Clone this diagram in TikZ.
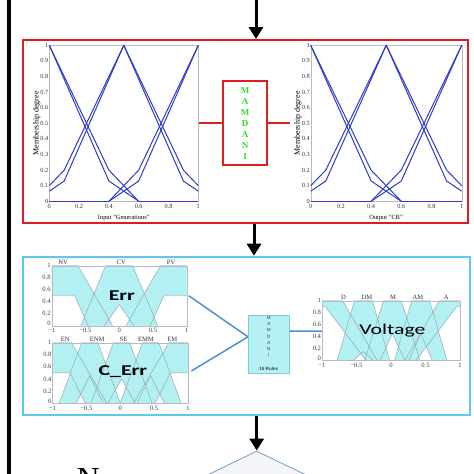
\documentclass[tikz,border=0pt]{standalone}
\usepackage{fontspec}
\setmainfont{Liberation Serif}
\setsansfont{Liberation Sans}
\newfontfamily\carl{Carlito}
\usetikzlibrary{arrows.meta,shapes.geometric}
\definecolor{redfr}{RGB}{220,30,35}
\definecolor{cyanfr}{RGB}{95,200,235}
\definecolor{tfill}{RGB}{178,240,242}
\definecolor{tline}{RGB}{140,160,165}
\definecolor{mfblue}{RGB}{45,60,195}
\definecolor{mgreen}{RGB}{50,215,50}
\definecolor{linkb}{RGB}{75,145,215}
\definecolor{diafill}{RGB}{244,245,248}
\definecolor{diaedge}{RGB}{115,160,200}
\definecolor{axgrey}{RGB}{185,185,200}
\definecolor{boxfill}{RGB}{180,240,246}
\definecolor{boxedge}{RGB}{130,200,230}
% type-2 membership functions
\newcommand\tmidf[5]{\fill[tfill,even odd rule] ({#1-#2},0)--({#1-#3},1)--({#1+#3},1)--({#1+#2},0)--cycle ({#1-#4},0)--(#1,#5)--({#1+#4},0)--cycle;}
\newcommand\tmidl[5]{\draw[tline] ({#1-#2},0)--({#1-#3},1)--({#1+#3},1)--({#1+#2},0) ({#1-#4},0)--(#1,#5)--({#1+#4},0);}
\newcommand\tshf[6]{\fill[tfill,even odd rule] (#1,0)--(#1,1)--(#2,1)--(#3,0)--cycle (#1,0)--(#1,#4)--(#5,#4)--(#6,0)--cycle;}
\newcommand\tshl[6]{\draw[tline] (#1,1)--(#2,1)--(#3,0) (#1,#4)--(#5,#4)--(#6,0);}
\begin{document}
\begin{tikzpicture}[x=1pt,y=-1pt,
  redframe/.style={draw=redfr,line width=2pt,inner sep=0pt},
  cyanframe/.style={draw=cyanfr,line width=2pt,inner sep=0pt},
  bigarrow/.style={line width=3pt,-{Triangle[width=14pt,length=12pt]}},
  redlink/.style={draw=redfr,line width=2pt},
  bluelink/.style={draw=linkb,line width=1.5pt},
  mfline/.style={draw=mfblue,line width=1pt,line join=round},
  axframe/.style={draw=axgrey,line width=0.4pt},
  tickl/.style={font=\fontsize{6.3}{6}\selectfont,inner sep=0.8pt,text=black!80},
  ticktt/.style={font=\fontsize{6.6}{6}\selectfont,inner sep=0.8pt,text=black!75},
  toplab/.style={font=\fontsize{6.6}{6}\selectfont,inner sep=0pt,anchor=base,text=black!80},
  bigword/.style={font=\carl\fontsize{15}{15}\selectfont,xscale=1.45,inner sep=0pt}]
\useasboundingbox (0,0) rectangle (474,474);
\fill[white] (0,0) rectangle (474,474);
% left bar
\coordinate (bartop) at (9,-5);
\coordinate (barbot) at (9,480);
\draw[line width=3.6pt] (bartop) -- (barbot);
% frames
\node[redframe,minimum width=445.3pt,minimum height=182.7pt] (rbox) at (245.35,131.35) {};
\node[cyanframe,minimum width=447.3pt,minimum height=158.3pt] (cbox) at (246.35,335.85) {};
% arrows
\coordinate (a1) at (256,-2);
\draw[bigarrow] (a1) -- (a1 |- rbox.north);
\coordinate (a2) at (254,0);
\draw[bigarrow] (a2 |- rbox.south) -- (a2 |- cbox.north);
\node[diamond,draw=diaedge,fill=diafill,line width=0.8pt,minimum width=190pt,minimum height=92pt,inner sep=0pt] (dec) at (256.7,497) {};
\draw[bigarrow] (dec.north |- cbox.south) -- (dec.north);
\node[font=\fontsize{32}{32}\selectfont,anchor=north west,inner sep=0pt] (nlab) at (76.5,468) {N};
% ---------- top plots
\begin{scope}[shift={(49.3,201.3)},x=149pt,y=156pt]
  \draw[axframe] (0,0) rectangle (1,1);
  \foreach \v in {0,0.1,0.2,0.3,0.4,0.5,0.6,0.7,0.8,0.9,1}
    \node[tickl,anchor=east] at (0,\v) {\v};
  \foreach \v in {0,0.2,0.4,0.6,0.8,1}
    \node[tickl,anchor=north] at (\v,-0.015) {\v};
  \node[font=\fontsize{8}{8}\selectfont,rotate=90,inner sep=0pt] (yl1) at (-0.085,0.5) {Membership degree};
  \node[font=\fontsize{6.4}{6}\selectfont,inner sep=0pt] (xl1) at (0.5,-0.105) {Input "Generations"};
  \draw[mfline] (0,0)--(0.4,0);
  \draw[mfline] (0.6,0)--(1,0);
  \draw[mfline] (0,1)--(0.4,0.2)--(0.5,0.1)--(0.6,0);
  \draw[mfline] (0,1)--(0.4,0.13)--(0.5,0.065)--(0.6,0);
  \draw[mfline] (0,0.1)--(0.1,0.2)--(0.5,1)--(0.9,0.2)--(1,0.1);
  \draw[mfline] (0,0.065)--(0.1,0.13)--(0.5,1)--(0.9,0.13)--(1,0.065);
  \draw[mfline] (0.4,0)--(0.5,0.1)--(0.6,0.2)--(1,1);
  \draw[mfline] (0.4,0)--(0.5,0.065)--(0.6,0.13)--(1,1);
  \coordinate (p1r) at (1.005,0.5);
\end{scope}
\begin{scope}[shift={(310.7,201.3)},x=151pt,y=156pt]
  \draw[axframe] (0,0) rectangle (1,1);
  \foreach \v in {0,0.1,0.2,0.3,0.4,0.5,0.6,0.7,0.8,0.9,1}
    \node[tickl,anchor=east] at (0,\v) {\v};
  \foreach \v in {0,0.2,0.4,0.6,0.8,1}
    \node[tickl,anchor=north] at (\v,-0.015) {\v};
  \node[font=\fontsize{8}{8}\selectfont,rotate=90,inner sep=0pt] (yl2) at (-0.084,0.5) {Membership degree};
  \node[font=\fontsize{6.4}{6}\selectfont,inner sep=0pt] (xl2) at (0.5,-0.105) {Output "CR"};
  \draw[mfline] (0,0)--(0.4,0);
  \draw[mfline] (0.6,0)--(1,0);
  \draw[mfline] (0,1)--(0.4,0.2)--(0.5,0.1)--(0.6,0);
  \draw[mfline] (0,1)--(0.4,0.13)--(0.5,0.065)--(0.6,0);
  \draw[mfline] (0,0.1)--(0.1,0.2)--(0.5,1)--(0.9,0.2)--(1,0.1);
  \draw[mfline] (0,0.065)--(0.1,0.13)--(0.5,1)--(0.9,0.13)--(1,0.065);
  \draw[mfline] (0.4,0)--(0.5,0.1)--(0.6,0.2)--(1,1);
  \draw[mfline] (0.4,0)--(0.5,0.065)--(0.6,0.13)--(1,1);
  \coordinate (p2l) at (-0.137,0.5);
\end{scope}
% red MAMDANI box
\node[redframe,minimum width=44pt,minimum height=84pt,align=center,text=mgreen,
  font=\bfseries\fontsize{9}{11}\selectfont] (mbox) at (245,123.3) {M\\A\\M\\D\\A\\N\\I};
\draw[redlink] (p1r) -- (mbox.west);
\draw[redlink] (mbox.east) -- (p2l);
% ---------- Err plot
\begin{scope}[shift={(119.2,325.7)},x=67.5pt,y=60pt]
  \begin{scope}
    \clip (-1,0) rectangle (1,1);
    \tshf{-1}{-0.61}{-0.1}{0.5}{-0.66}{-0.46}
    \tmidf{0}{0.57}{0.2}{0.22}{0.35}
    \tshf{1}{0.61}{0.1}{0.5}{0.66}{0.46}
    \tshl{-1}{-0.61}{-0.1}{0.5}{-0.66}{-0.46}
    \tmidl{0}{0.57}{0.2}{0.22}{0.35}
    \tshl{1}{0.61}{0.1}{0.5}{0.66}{0.46}
  \end{scope}
  \draw[axframe] (-1,0) rectangle (1,1);
  \foreach \v in {0.2,0.4,0.6,0.8,1}
    \node[ticktt,anchor=east] at (-1,\v) {\v};
  \node[ticktt,anchor=south east] at (-1,-0.02) {0};
  \foreach \v/\t in {-1/−1,-0.5/−0.5,0/0,0.5/0.5,1/1}
    \node[ticktt,anchor=north] at (\v,-0.03) {\t};
  \node[toplab] at (-0.83,1.02) {NV};
  \node[toplab] at (0.03,1.02) {CV};
  \node[toplab] at (0.77,1.02) {PV};
  \node[bigword,font=\carl\bfseries\fontsize{15}{15}\selectfont] (errt) at (0.04,0.5) {Err};
  \coordinate (errR) at (1.03,0.5);
\end{scope}
% ---------- C_Err plot
\begin{scope}[shift={(120.2,403)},x=67.7pt,y=60.3pt]
  \begin{scope}
    \clip (-1,0) rectangle (1,1);
    \tshf{-1}{-0.72}{-0.2}{0.5}{-0.74}{-0.52}
    \tmidf{-0.45}{0.45}{0.12}{0.2}{0.45}
    \tmidf{0.02}{0.45}{0.12}{0.2}{0.4}
    \tmidf{0.45}{0.45}{0.12}{0.2}{0.45}
    \tshf{1}{0.72}{0.2}{0.5}{0.74}{0.52}
    \tshl{-1}{-0.72}{-0.2}{0.5}{-0.74}{-0.52}
    \tmidl{-0.45}{0.45}{0.12}{0.2}{0.45}
    \tmidl{0.02}{0.45}{0.12}{0.2}{0.4}
    \tmidl{0.45}{0.45}{0.12}{0.2}{0.45}
    \tshl{1}{0.72}{0.2}{0.5}{0.74}{0.52}
  \end{scope}
  \draw[axframe] (-1,0) rectangle (1,1);
  \foreach \v in {0.2,0.4,0.6,0.8,1}
    \node[ticktt,anchor=east] at (-1,\v) {\v};
  \node[ticktt,anchor=south east] at (-1,-0.02) {0};
  \foreach \v/\t in {-1/−1,-0.5/−0.5,0/0,0.5/0.5,1/1}
    \node[ticktt,anchor=north] at (\v,-0.03) {\t};
  \node[toplab] at (-0.81,1.02) {EN};
  \node[toplab] at (-0.34,1.02) {ENM};
  \node[toplab] at (0.05,1.02) {SE};
  \node[toplab] at (0.38,1.02) {EMM};
  \node[toplab] at (0.77,1.02) {EM};
  \node[bigword,font=\carl\bfseries\fontsize{15}{15}\selectfont] (cerrt) at (0.04,0.52) {C\_Err};
  \coordinate (cerrR) at (1.05,0.53);
\end{scope}
% ---------- Voltage plot
\begin{scope}[shift={(391,360.5)},x=69pt,y=59.7pt]
  \begin{scope}
    \clip (-1,0) rectangle (1,1);
    \tshf{-1}{-0.7}{-0.2}{0.9}{-0.95}{-0.36}
    \tmidf{-0.4}{0.38}{0.13}{0.15}{0.15}
    \tmidf{0.02}{0.4}{0.13}{0.18}{0.45}
    \tmidf{0.43}{0.38}{0.13}{0.17}{0.45}
    \tshf{1}{0.7}{0.2}{0.9}{0.95}{0.36}
    \tshl{-1}{-0.7}{-0.2}{0.9}{-0.95}{-0.36}
    \tmidl{-0.4}{0.38}{0.13}{0.15}{0.15}
    \tmidl{0.02}{0.4}{0.13}{0.18}{0.45}
    \tmidl{0.43}{0.38}{0.13}{0.17}{0.45}
    \tshl{1}{0.7}{0.2}{0.9}{0.95}{0.36}
  \end{scope}
  \draw[axframe] (-1,0) rectangle (1,1);
  \foreach \v in {0.2,0.4,0.6,0.8,1}
    \node[ticktt,anchor=east] at (-1,\v) {\v};
  \node[ticktt,anchor=south east] at (-1,-0.02) {0};
  \foreach \v/\t in {-1/−1,-0.5/−0.5,0/0,0.5/0.5,1/1}
    \node[ticktt,anchor=north] at (\v,-0.03) {\t};
  \node[toplab] at (-0.69,1.02) {D};
  \node[toplab] at (-0.35,1.02) {DM};
  \node[toplab] at (0.03,1.02) {M};
  \node[toplab] at (0.39,1.02) {AM};
  \node[toplab] at (0.8,1.02) {A};
  \node[bigword] (voltt) at (0.02,0.5) {Voltage};
  \coordinate (voltL) at (-1,0.49);
\end{scope}
% cyan MAMDANI box
\node[draw=boxedge,fill=boxfill,line width=0.6pt,minimum width=41pt,minimum height=58.3pt,inner sep=0pt] (cmbox) at (268.8,344.15) {};
\node[font=\sffamily\fontsize{4.6}{6.2}\selectfont,align=center,text=black!75,inner sep=0pt] (cmtxt) at (268.8,336.5) {M\\A\\M\\D\\A\\N\\I};
\node[font=\sffamily\bfseries\fontsize{4.6}{5}\selectfont,text=black!75,inner sep=0pt] (cmrules) at (268.8,369.3) {15 Rules};
\draw[bluelink] (errR) -- ([yshift=7.3pt]cmbox.west);
\draw[bluelink] (cerrR) -- ([yshift=7.3pt]cmbox.west);
\draw[bluelink] ([yshift=13pt]cmbox.east) -- (voltL);
\end{tikzpicture}
\end{document}
